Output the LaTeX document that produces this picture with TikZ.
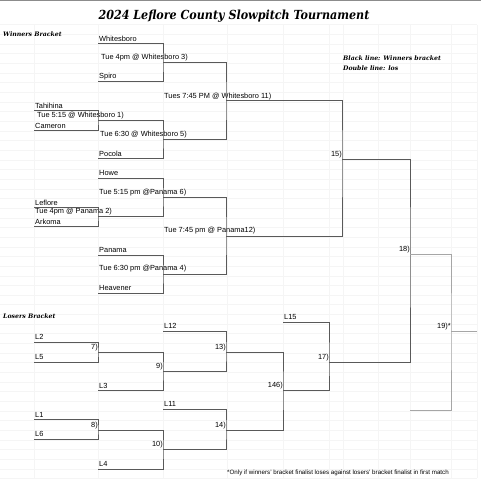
\documentclass[tikz,border=0pt]{standalone}
\usepackage{fontspec}
\setmainfont{Liberation Sans}
\newfontfamily\headfont{DejaVu Serif}
\usetikzlibrary{positioning}

\begin{document}
\begin{tikzpicture}[x=1pt,y=-1pt,
every node/.style={font=\fontsize{7.4}{8}\selectfont,inner sep=0pt},
team/.style={anchor=west},
num/.style={anchor=south east,inner ysep=1pt},
head/.style={font=\headfont\bfseries\itshape\fontsize{6.2}{7}\selectfont,anchor=west},
br/.style={draw=black!65,line width=1pt},
brlt/.style={draw=black!35,line width=0.9pt},
sheetline/.style={draw=black!4,line width=0.4pt}]
\useasboundingbox (0,0) rectangle (481,500);
% sheet grid
\foreach \k in {-2,...,45}
  \draw[sheetline] (0,44+\k*9.655) -- (477,44+\k*9.655);
\foreach \c in {34,98,163,227,283,329,343,378,410,451,477}
  \draw[sheetline] (\c,25) -- (\c,478);
\draw[black!45,line width=1pt] (0,0.5) -- (481,0.5);

% title and notes
\node[font=\headfont\bfseries\itshape\fontsize{12.5}{14}\selectfont,xscale=0.89] (title) at (234,16) {2024 Leflore County Slowpitch Tournament};
\node[head] (wbr) at (3,34) {Winners Bracket};
\node[head] (lbr) at (3,316) {Losers Bracket};
\node[head] (key1) at (343,58) {Black line: Winners bracket};
\node[head] (key2) at (343,68) {Double line: los};
\node[anchor=west,font=\fontsize{6.2}{7}\selectfont] (foot) at (227,473) {*Only if winners' bracket finalist loses against losers' bracket finalist in first match};

% winners bracket slots
\coordinate (s-whi) at (98,44);
\coordinate (s-spi) at (98,82);
\coordinate (s-tah) at (34,111);
\coordinate (s-cam) at (34,130);
\coordinate (s-poc) at (98,158);
\coordinate (s-how) at (98,178);
\coordinate (s-lef) at (34,207);
\coordinate (s-ark) at (34,226);
\coordinate (s-pan) at (98,255);
\coordinate (s-hea) at (98,293);
\coordinate (g1) at (98,120);
\coordinate (g2) at (98,216);
\coordinate (g3) at (163,63);
\coordinate (g4) at (163,274);
\coordinate (g5) at (163,139);
\coordinate (g6) at (163,197);
\coordinate (g11) at (226,101);
\coordinate (g12) at (226,236);
\coordinate (g15) at (342,159);
\coordinate (g18) at (410,254);
\coordinate (g19) at (451,331);
\coordinate (champ) at (477,331);
\coordinate (s-rm) at (410,410);

% losers bracket slots
\coordinate (s-l2) at (34,342);
\coordinate (s-l5) at (34,362);
\coordinate (s-l3) at (98,390);
\coordinate (s-l12) at (163,331);
\coordinate (s-l1) at (34,419);
\coordinate (s-l6) at (34,439);
\coordinate (s-l4) at (98,469);
\coordinate (s-l11) at (163,409);
\coordinate (s-l15) at (283,322);
\coordinate (l7) at (98,352);
\coordinate (l9) at (163,371);
\coordinate (l13) at (226,352);
\coordinate (l8) at (98,430);
\coordinate (l10) at (163,449);
\coordinate (l14) at (226,430);
\coordinate (l146) at (283,390);
\coordinate (l17) at (329,362);

% teams and games
\node[team] (whi) at (99,39) {Whitesboro};
\node[team] (m3) at (101,58) {Tue 4pm @ Whitesboro 3)};
\node[team] (spi) at (99,77) {Spiro};
\node[team] (m11) at (164,97) {Tues 7:45 PM @ Whitesboro 11)};
\node[team] (tah) at (35,106) {Tahihina};
\node[team] (m1) at (37,116) {Tue 5:15 @ Whitesboro 1)};
\node[team] (cam) at (35,126) {Cameron};
\node[team] (m5) at (100,135) {Tue 6:30 @ Whitesboro 5)};
\node[team] (poc) at (99,154) {Pocola};
\node[team] (how) at (99,173) {Howe};
\node[team] (m6) at (99,193) {Tue 5:15 pm @Panama 6)};
\node[team] (lef) at (35,203) {Leflore};
\node[team] (m2) at (35,212) {Tue 4pm @ Panama 2)};
\node[team] (ark) at (35,222) {Arkoma};
\node[team] (m12) at (164,231) {Tue 7:45 pm @ Panama12)};
\node[team] (pan) at (99,250) {Panama};
\node[team] (m4) at (99,269) {Tue 6:30 pm @Panama 4)};
\node[team] (hea) at (99,288) {Heavener};
\node[num] (n15) at (g15) {15)};
\node[num] (n18) at (g18) {18)};
\node[num] (n19) at (g19) {19)*};

\node[team] (l2) at (35,337) {L2};
\node[team] (l5) at (35,357) {L5};
\node[team] (l3) at (99,386) {L3};
\node[team] (l12) at (164,326) {L12};
\node[team] (l1) at (35,415) {L1};
\node[team] (l6) at (35,434) {L6};
\node[team] (l4) at (99,464) {L4};
\node[team] (l11) at (164,404) {L11};
\node[team] (l15) at (284,317) {L15};
\node[num] (n7) at (l7) {7)};
\node[num] (n9) at (l9) {9)};
\node[num] (n13) at (l13) {13)};
\node[num] (n8) at (l8) {8)};
\node[num] (n10) at (l10) {10)};
\node[num] (n14) at (l14) {14)};
\node[num] (n146) at (l146) {146)};
\node[num] (n17) at (l17) {17)};

% winners lines
\draw[br] (s-tah) -| (g1) |- (s-cam);
\draw[br] (s-lef) -| (g2) |- (s-ark);
\draw[br] (s-whi) -| (g3) |- (s-spi);
\draw[br] (g1) -| (g5) |- (s-poc);
\draw[br] (s-how) -| (g6) |- (g2);
\draw[br] (s-pan) -| (g4) |- (s-hea);
\draw[br] (g3) -| (g11) |- (g5);
\draw[br] (g6) -| (g12) |- (g4);
\draw[br] (g11) -| (g15) |- (g12);
\draw[br] (g15) -| (g18) |- (l17);
\draw[brlt] (g18) -| (g19) |- (s-rm);
\draw[brlt] (g19) -- (champ);

% losers lines
\draw[br] (s-l2) -| (l7) |- (s-l5);
\draw[br] (l7) -| (l9) |- (s-l3);
\draw[br] (s-l12) -| (l13) |- (l9);
\draw[br] (s-l1) -| (l8) |- (s-l6);
\draw[br] (l8) -| (l10) |- (s-l4);
\draw[br] (s-l11) -| (l14) |- (l10);
\draw[br] (l13) -| (l146) |- (l14);
\draw[br] (s-l15) -| (l17) |- (l146);
\end{tikzpicture}
\end{document}
